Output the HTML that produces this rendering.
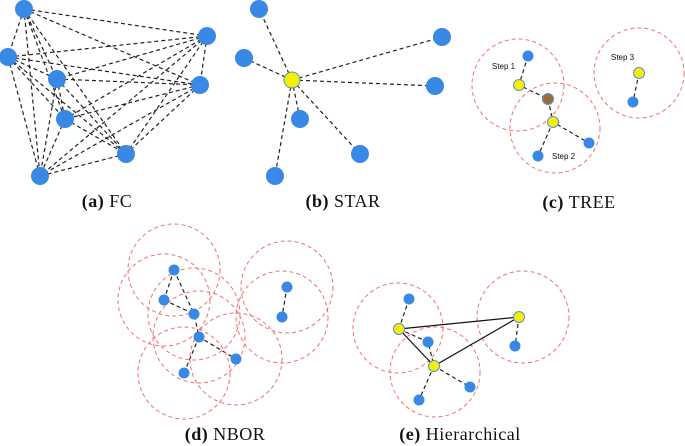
<!DOCTYPE html>
<html><head><meta charset="utf-8"><style>
html,body{margin:0;padding:0;background:#fff;}
svg{display:block;}
text.cap{font-family:"Liberation Serif",serif;font-size:18px;fill:#111;letter-spacing:0.5px;}
text.st{font-family:"Liberation Sans",sans-serif;font-size:8px;fill:#111;}
</style></head><body>
<svg width="685" height="446" viewBox="0 0 685 446" xmlns="http://www.w3.org/2000/svg">
<g stroke="#222" stroke-width="1.2" stroke-dasharray="4,3" fill="none">
<path d="M24 9L207 36M24 9L8 57M24 9L57 79M24 9L200 85M24 9L65 119M24 9L126 154M24 9L40 176
M207 36L8 57M207 36L57 79M207 36L200 85M207 36L65 119M207 36L126 154M207 36L40 176
M8 57L57 79M8 57L200 85M8 57L65 119M8 57L126 154M8 57L40 176
M57 79L200 85M57 79L65 119M57 79L126 154M57 79L40 176
M200 85L65 119M200 85L126 154M200 85L40 176
M65 119L126 154M65 119L40 176M126 154L40 176"/>
<path d="M292 80L259 9M292 80L244 58M292 80L442 37M292 80L435 86M292 80L300 119M292 80L360 154M292 80L275 176"/>
<path d="M528 56L519 85L548 99L553 122L589 143M553 122L538 156M639 73L633 102"/>
<path d="M174 270L164 300M174 270L194 314M164 300L194 314L199 337L236 359M199 337L184 373M287 287L282 317"/>
<path d="M409 299L399 329M399 329L428 342L434 366M434 366L470 387M434 366L419 400M519 317L515 346"/>
</g>
<g stroke="#f07070" stroke-width="1" stroke-dasharray="4,3" fill="none">
<circle cx="518" cy="85" r="46"/><circle cx="555" cy="128" r="45"/><circle cx="639" cy="73" r="45"/>
<circle cx="174" cy="270" r="46"/><circle cx="164" cy="300" r="46"/><circle cx="194" cy="314" r="46"/><circle cx="199" cy="337" r="46"/><circle cx="236" cy="359" r="46"/><circle cx="184" cy="373" r="46"/><circle cx="287" cy="287" r="46"/><circle cx="282" cy="317" r="46"/>
<circle cx="398" cy="328" r="45"/><circle cx="435" cy="372" r="45"/><circle cx="523" cy="317" r="46"/>
</g>
<g stroke="#111" stroke-width="1.2" fill="none">
<path d="M399 329L519 317L434 366Z"/>
</g>
<g fill="#3a88e6">
<circle cx="24" cy="9" r="9"/><circle cx="207" cy="36" r="9"/><circle cx="8" cy="57" r="9"/><circle cx="57" cy="79" r="9"/><circle cx="200" cy="85" r="9"/><circle cx="65" cy="119" r="9"/><circle cx="126" cy="154" r="9"/><circle cx="40" cy="176" r="9"/>
<circle cx="259" cy="9" r="9"/><circle cx="244" cy="58" r="9"/><circle cx="442" cy="37" r="9"/><circle cx="435" cy="86" r="9"/><circle cx="300" cy="119" r="9"/><circle cx="360" cy="154" r="9"/><circle cx="275" cy="176" r="9"/>
<circle cx="528" cy="56" r="5.5"/><circle cx="589" cy="143" r="5.5"/><circle cx="538" cy="156" r="5.5"/><circle cx="633" cy="102" r="5.5"/>
<circle cx="174" cy="270" r="5.5"/><circle cx="164" cy="300" r="5.5"/><circle cx="194" cy="314" r="5.5"/><circle cx="199" cy="337" r="5.5"/><circle cx="236" cy="359" r="5.5"/><circle cx="184" cy="373" r="5.5"/><circle cx="287" cy="287" r="5.5"/><circle cx="282" cy="317" r="5.5"/>
<circle cx="409" cy="299" r="5.5"/><circle cx="428" cy="342" r="5.5"/><circle cx="470" cy="387" r="5.5"/><circle cx="419" cy="400" r="5.5"/><circle cx="515" cy="346" r="5.5"/>
</g>
<g fill="#f5f000" stroke="#5a8fd0" stroke-width="1">
<circle cx="292" cy="80" r="8"/>
<circle cx="519" cy="85" r="5.5"/><circle cx="553" cy="122" r="5.5"/><circle cx="639" cy="73" r="5.5"/>
<circle cx="399" cy="329" r="5.5"/><circle cx="434" cy="366" r="5.5"/><circle cx="519" cy="317" r="5.5"/>
</g>
<circle cx="548" cy="99" r="5.5" fill="#9a6a3a" stroke="#5a8fd0" stroke-width="1"/>
<text class="st" x="492" y="69">Step 1</text>
<text class="st" x="552" y="159">Step 2</text>
<text class="st" x="611" y="60">Step 3</text>
<text class="cap" x="107" y="207" text-anchor="middle"><tspan font-weight="bold">(a)</tspan> FC</text>
<text class="cap" x="343" y="207" text-anchor="middle"><tspan font-weight="bold">(b)</tspan> STAR</text>
<text class="cap" x="579" y="208" text-anchor="middle"><tspan font-weight="bold">(c)</tspan> TREE</text>
<text class="cap" x="225" y="440" text-anchor="middle"><tspan font-weight="bold">(d)</tspan> NBOR</text>
<text class="cap" x="460" y="440" text-anchor="middle"><tspan font-weight="bold">(e)</tspan> Hierarchical</text>
</svg>
</body></html>
